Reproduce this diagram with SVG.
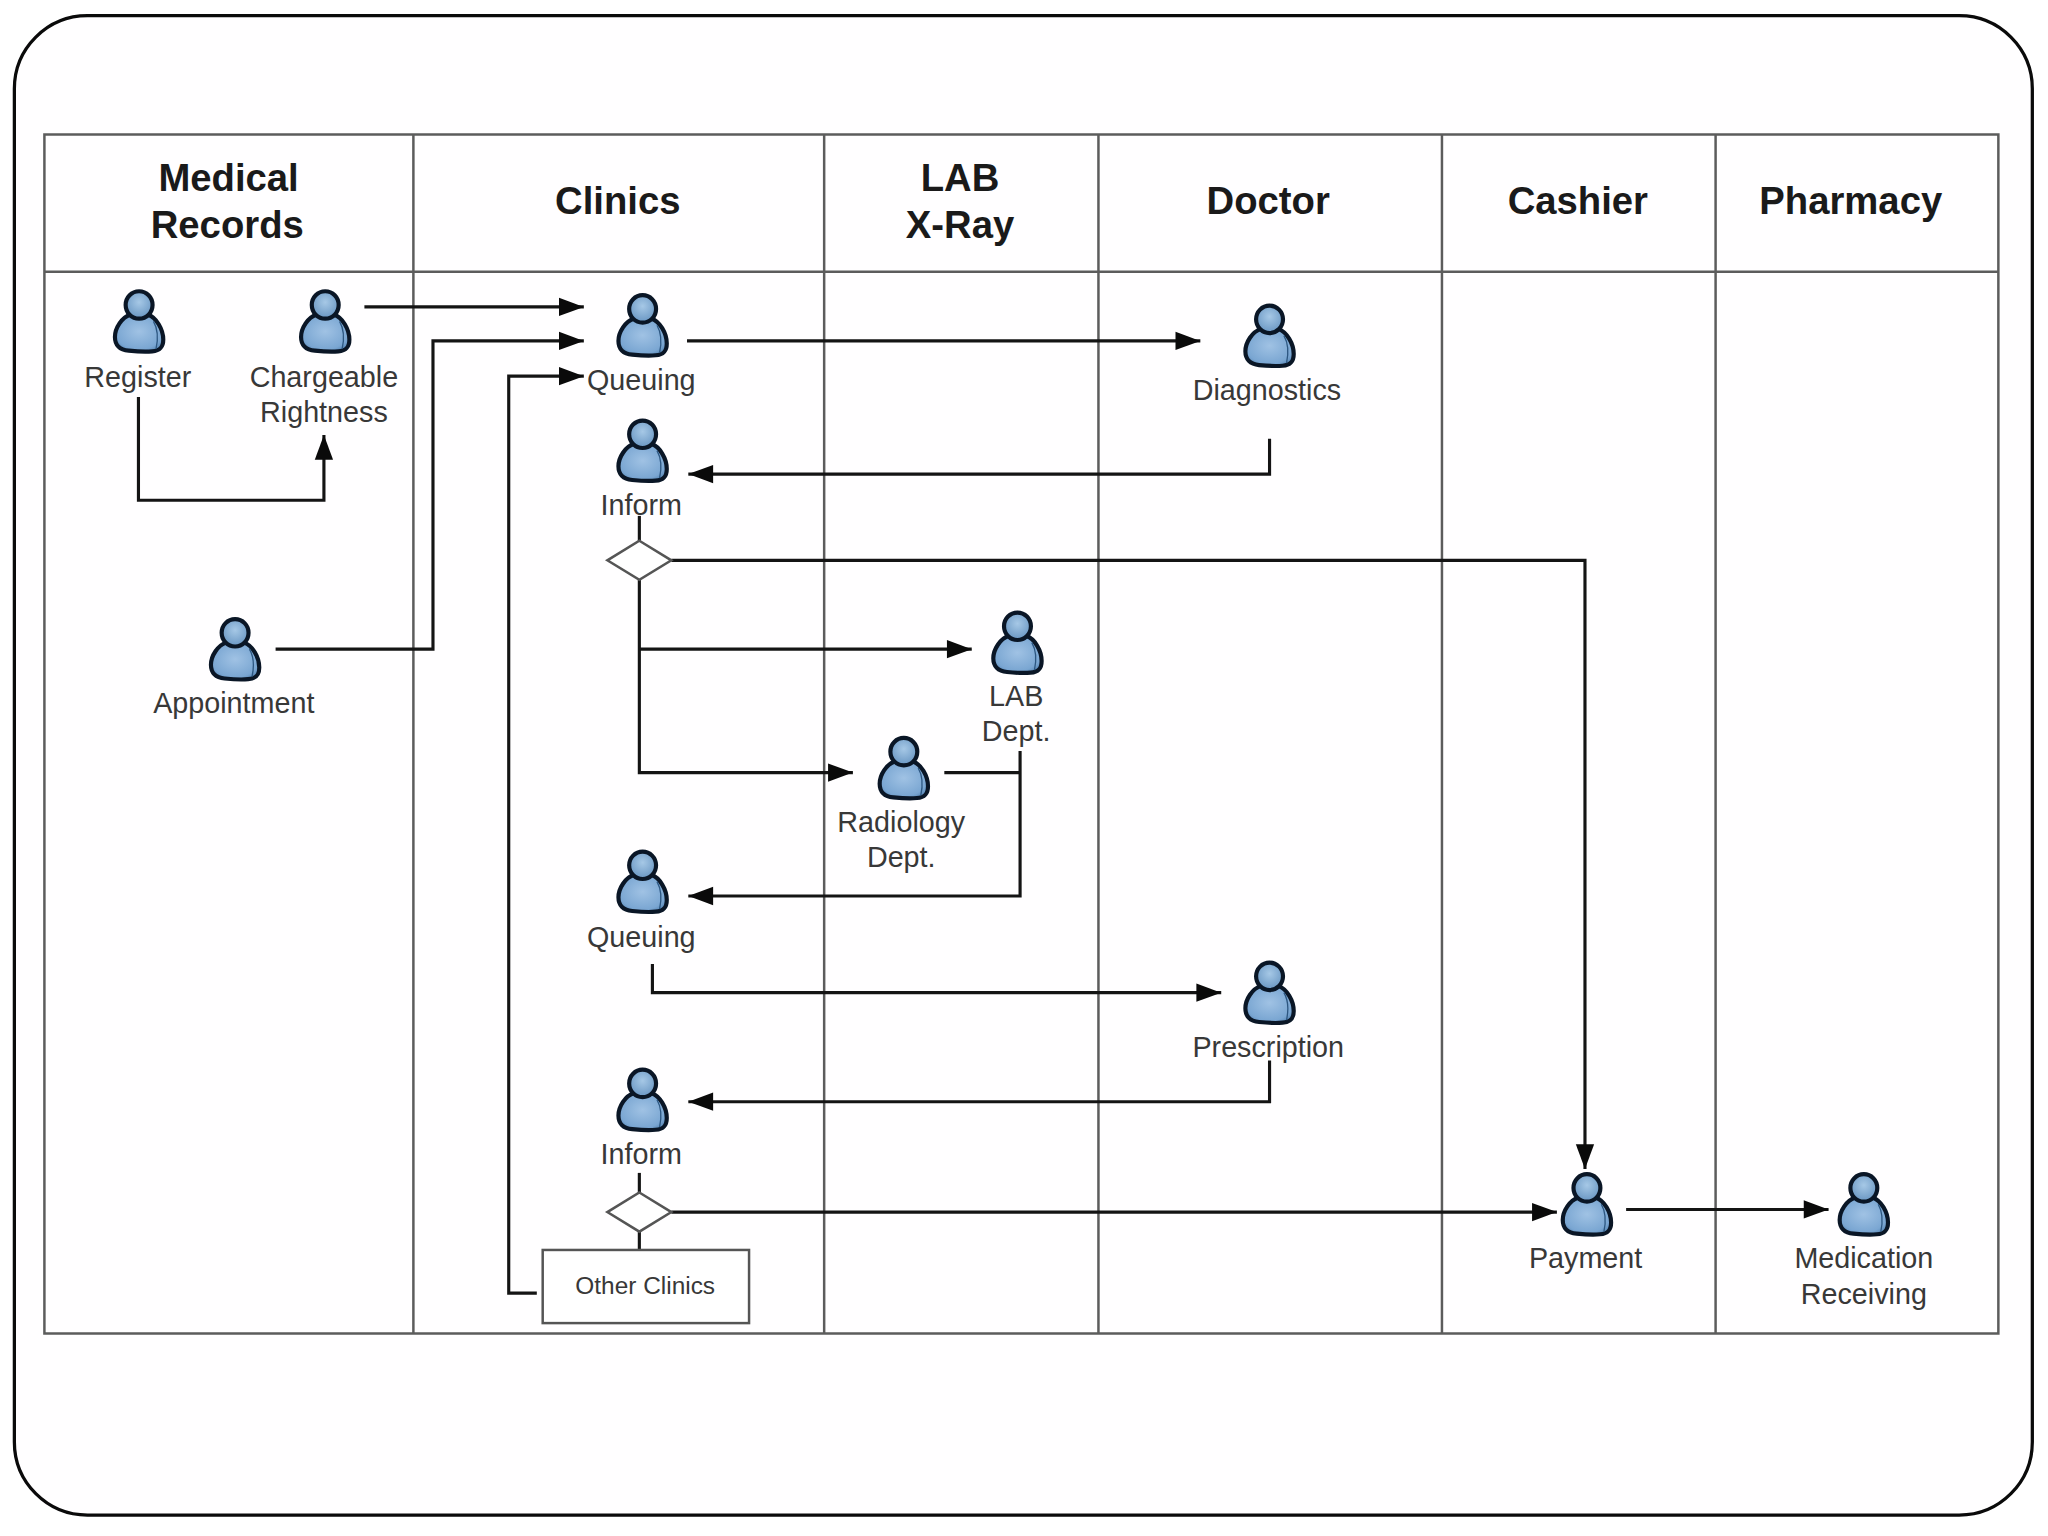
<svg xmlns="http://www.w3.org/2000/svg" xmlns:xlink="http://www.w3.org/1999/xlink" width="2048" height="1536" viewBox="0 0 2048 1536">
<style>
text{font-family:"Liberation Sans",Arial,sans-serif;text-anchor:middle}
.lbl{font-size:22px;fill:#383838}
.hdr{font-size:29.300px;font-weight:700;fill:#1a1a1a}
.grid{fill:none;stroke:#5c5c5c;stroke-width:1.9}
.con{fill:none;stroke:#141414;stroke-width:2.400}
.arr{marker-end:url(#ah)}
.shape{fill:#fff;stroke:#555;stroke-width:1.9}
</style>
<defs>
<marker id="ah" markerUnits="userSpaceOnUse" markerWidth="22" markerHeight="16" refX="20" refY="7" orient="auto" viewBox="0 0 22 14"><path d="M1 0L20 7L1 14Z" fill="#0a0a0a"/></marker>
<radialGradient id="pb" cx="0.5" cy="0.45" r="0.7"><stop offset="0" stop-color="#a0c2e4"/><stop offset="0.7" stop-color="#7aa6d2"/><stop offset="1" stop-color="#3f6f9f"/></radialGradient>
<radialGradient id="ph" cx="0.5" cy="0.4" r="0.7"><stop offset="0" stop-color="#a6c8e6"/><stop offset="1" stop-color="#5e8dbc"/></radialGradient>
<g id="person">
<path d="M-7-5C-13-3-18.500 5-18.500 12C-18.500 18-15 22-8 22.500C-3 23 5 23.500 10 23C16 22.500 18.500 20 18.500 14C18.500 6 13-3 7-5Z" fill="url(#pb)" stroke="#0a1626" stroke-width="3.200" stroke-linejoin="round"/>
<path d="M11 0C14.500 6 14.500 14 13 21" fill="none" stroke="#2c5680" stroke-width="1"/>
<ellipse cx="0" cy="-12.500" rx="10.300" ry="10.500" fill="url(#ph)" stroke="#0a1626" stroke-width="3.200"/>
</g>
</defs>
<rect width="2048" height="1536" fill="#fff"/>
<g transform="scale(1.30612)">
<g id="frame"><rect x="11" y="12" width="1545" height="1148" rx="56" ry="56" fill="#fffeff" stroke="#0a0a0a" stroke-width="2.500"/></g>
<g id="lanes">
<path class="grid" d="M34 103H1530V1021H34ZM34 208H1530M316.500 103V1021M631 103V1021M841 103V1021M1104 103V1021M1313.500 103V1021"/>
<text class="hdr"><tspan x="175" y="146">Medical</tspan><tspan x="174" y="182">Records</tspan></text>
<text class="hdr" x="473" y="164">Clinics</text>
<text class="hdr"><tspan x="735" y="146">LAB</tspan><tspan x="735" y="182">X-Ray</tspan></text>
<text class="hdr" x="971" y="164">Doctor</text>
<text class="hdr" x="1208" y="164">Cashier</text>
<text class="hdr" x="1417" y="164">Pharmacy</text>
</g>
<g id="connectors">
<path class="con arr" d="M279 235H447"/>
<path class="con arr" d="M211 497H331.500V261H447"/>
<path class="con arr" d="M411 990H389.500V288H447"/>
<path class="con arr" d="M526 261H919"/>
<path class="con arr" d="M972 336V363H527"/>
<path class="con arr" d="M106 304V383H248V333"/>
<path class="con" d="M489.500 395V414"/>
<path class="con arr" d="M489.500 444V591.500H653"/>
<path class="con arr" d="M489.500 497H744"/>
<path class="con arr" d="M514 429H1213.500V895"/>
<path class="con" d="M723 591.500H781"/>
<path class="con arr" d="M781 575V686H527"/>
<path class="con arr" d="M499.500 738V760H935"/>
<path class="con arr" d="M972 812V843.500H527"/>
<path class="con" d="M489.500 898V913"/>
<path class="con arr" d="M514 928H1192"/>
<path class="con" d="M489.500 943V957"/>
<path class="con arr" d="M1245 926H1400"/>
</g>
<g id="register"><use xlink:href="#person" href="#person" x="106.500" y="246"/><text class="lbl" x="105.500" y="296">Register</text></g>
<g id="chargeable"><use xlink:href="#person" href="#person" x="249" y="246"/><text class="lbl"><tspan x="248" y="296">Chargeable</tspan><tspan x="248" y="323">Rightness</tspan></text></g>
<g id="queuing1"><use xlink:href="#person" href="#person" x="492" y="249"/><text class="lbl" x="491" y="298.500">Queuing</text></g>
<g id="inform1"><use xlink:href="#person" href="#person" x="492" y="345"/><text class="lbl" x="491" y="394">Inform</text></g>
<g id="diagnostics"><use xlink:href="#person" href="#person" x="972" y="257"/><text class="lbl" x="970" y="306">Diagnostics</text></g>
<g id="appointment"><use xlink:href="#person" href="#person" x="180" y="497"/><text class="lbl" x="179" y="546">Appointment</text></g>
<g id="lab"><use xlink:href="#person" href="#person" x="779" y="492"/><text class="lbl"><tspan x="778" y="540.500">LAB</tspan><tspan x="778" y="567.500">Dept.</tspan></text></g>
<g id="radiology"><use xlink:href="#person" href="#person" x="692" y="588"/><text class="lbl"><tspan x="690" y="637">Radiology</tspan><tspan x="690" y="664">Dept.</tspan></text></g>
<g id="queuing2"><use xlink:href="#person" href="#person" x="492" y="675"/><text class="lbl" x="491" y="725">Queuing</text></g>
<g id="prescription"><use xlink:href="#person" href="#person" x="972" y="760"/><text class="lbl" x="971" y="809">Prescription</text></g>
<g id="inform2"><use xlink:href="#person" href="#person" x="492" y="842"/><text class="lbl" x="491" y="891">Inform</text></g>
<g id="payment"><use xlink:href="#person" href="#person" x="1215" y="922"/><text class="lbl" x="1214" y="971">Payment</text></g>
<g id="medication"><use xlink:href="#person" href="#person" x="1427" y="922"/><text class="lbl"><tspan x="1427" y="971">Medication</tspan><tspan x="1427" y="998">Receiving</tspan></text></g>
<g id="decision1"><path class="shape" d="M489.500 414L514 429L489.500 444L465 429Z"/></g>
<g id="decision2"><path class="shape" d="M489.500 913L514 928L489.500 943L465 928Z"/></g>
<g id="other-clinics"><rect class="shape" x="415.500" y="957" width="158" height="56"/><text x="494" y="991" style="font-size:18.700px;fill:#383838">Other Clinics</text></g>
</g>
</svg>
